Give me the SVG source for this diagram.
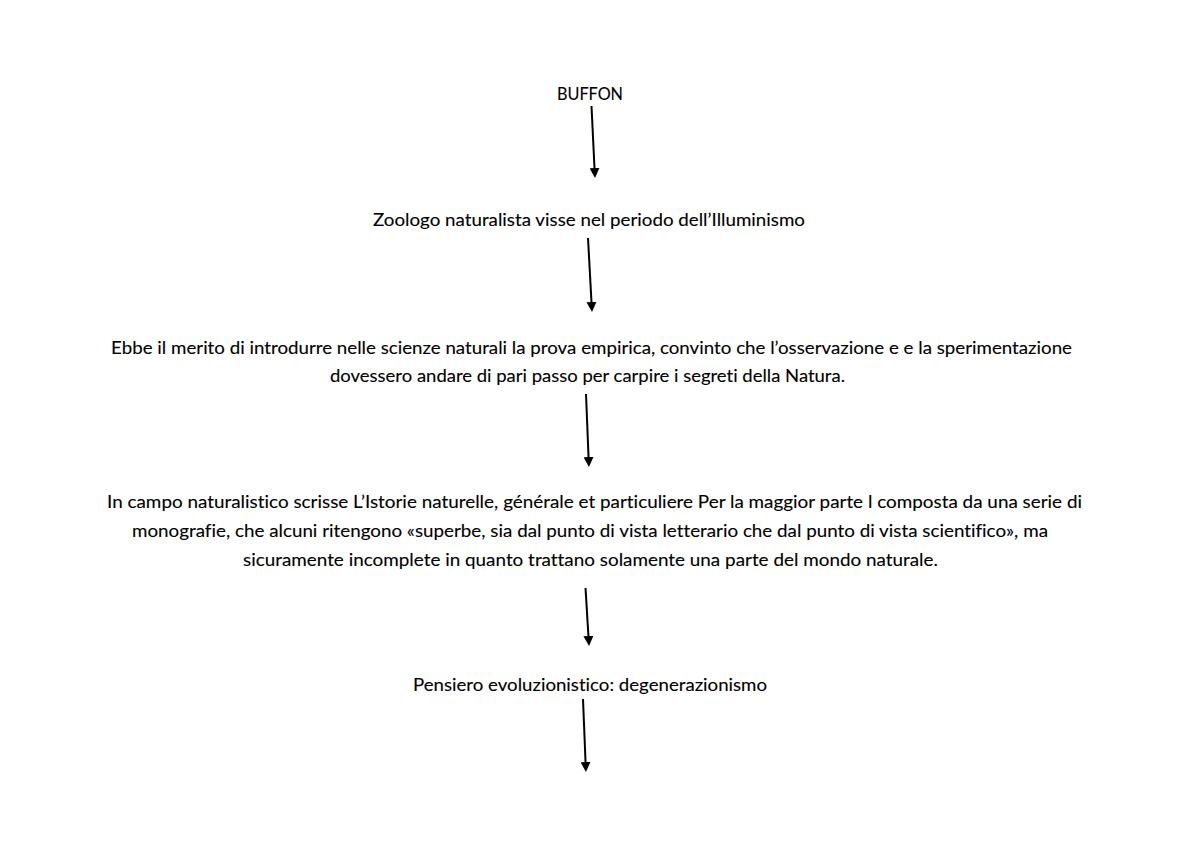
<svg xmlns="http://www.w3.org/2000/svg" width="1200" height="849" viewBox="0 0 1200 849">
  <style>
    .t { font-family: Lato, "Open Sans", "Liberation Sans", sans-serif; font-size: 16.5px; fill: #000; stroke: #000; stroke-width: 0.1; font-variant-ligatures: none; }
    .c { stroke: #000; stroke-width: 2; fill: none; }
  </style>
  <defs>
    <marker id="ah" markerUnits="userSpaceOnUse" markerWidth="10" markerHeight="10" refX="4" refY="5" orient="auto">
      <path d="M0,0 L10,5 L0,10 z" fill="#000"/>
    </marker>
  </defs>
  <rect width="1200" height="849" fill="#fff"/>
  <g id="n1"><text class="t" x="557" y="100" textLength="66" lengthAdjust="spacingAndGlyphs">BUFFON</text></g>
  <g id="n2"><text class="t" x="373" y="226" textLength="432" lengthAdjust="spacingAndGlyphs">Zoologo naturalista visse nel periodo dell’Illuminismo</text></g>
  <g id="n3">
    <text class="t" x="111" y="354" textLength="961" lengthAdjust="spacingAndGlyphs">Ebbe il merito di introdurre nelle scienze naturali la prova empirica, convinto che l’osservazione e e la sperimentazione</text>
    <text class="t" x="330" y="382" textLength="515" lengthAdjust="spacingAndGlyphs">dovessero andare di pari passo per carpire i segreti della Natura.</text>
  </g>
  <g id="n4">
    <text class="t" x="107" y="508" textLength="975" lengthAdjust="spacingAndGlyphs">In campo naturalistico scrisse L’Istorie naturelle, générale et particuliere Per la maggior parte l composta da una serie di</text>
    <text class="t" x="132" y="537" textLength="916" lengthAdjust="spacingAndGlyphs">monografie, che alcuni ritengono «superbe, sia dal punto di vista letterario che dal punto di vista scientifico», ma</text>
    <text class="t" x="243" y="566" textLength="695" lengthAdjust="spacingAndGlyphs">sicuramente incomplete in quanto trattano solamente una parte del mondo naturale.</text>
  </g>
  <g id="n5"><text class="t" x="413" y="691" textLength="354" lengthAdjust="spacingAndGlyphs">Pensiero evoluzionistico: degenerazionismo</text></g>
  <g id="connectors">
    <line class="c" x1="591.5" y1="106" x2="594.7" y2="172" marker-end="url(#ah)"/>
    <line class="c" x1="588" y1="238" x2="591.7" y2="306" marker-end="url(#ah)"/>
    <line class="c" x1="586" y1="394" x2="588.7" y2="461" marker-end="url(#ah)"/>
    <line class="c" x1="585.5" y1="588" x2="588.7" y2="640" marker-end="url(#ah)"/>
    <line class="c" x1="583" y1="699" x2="585.7" y2="766" marker-end="url(#ah)"/>
  </g>
</svg>
